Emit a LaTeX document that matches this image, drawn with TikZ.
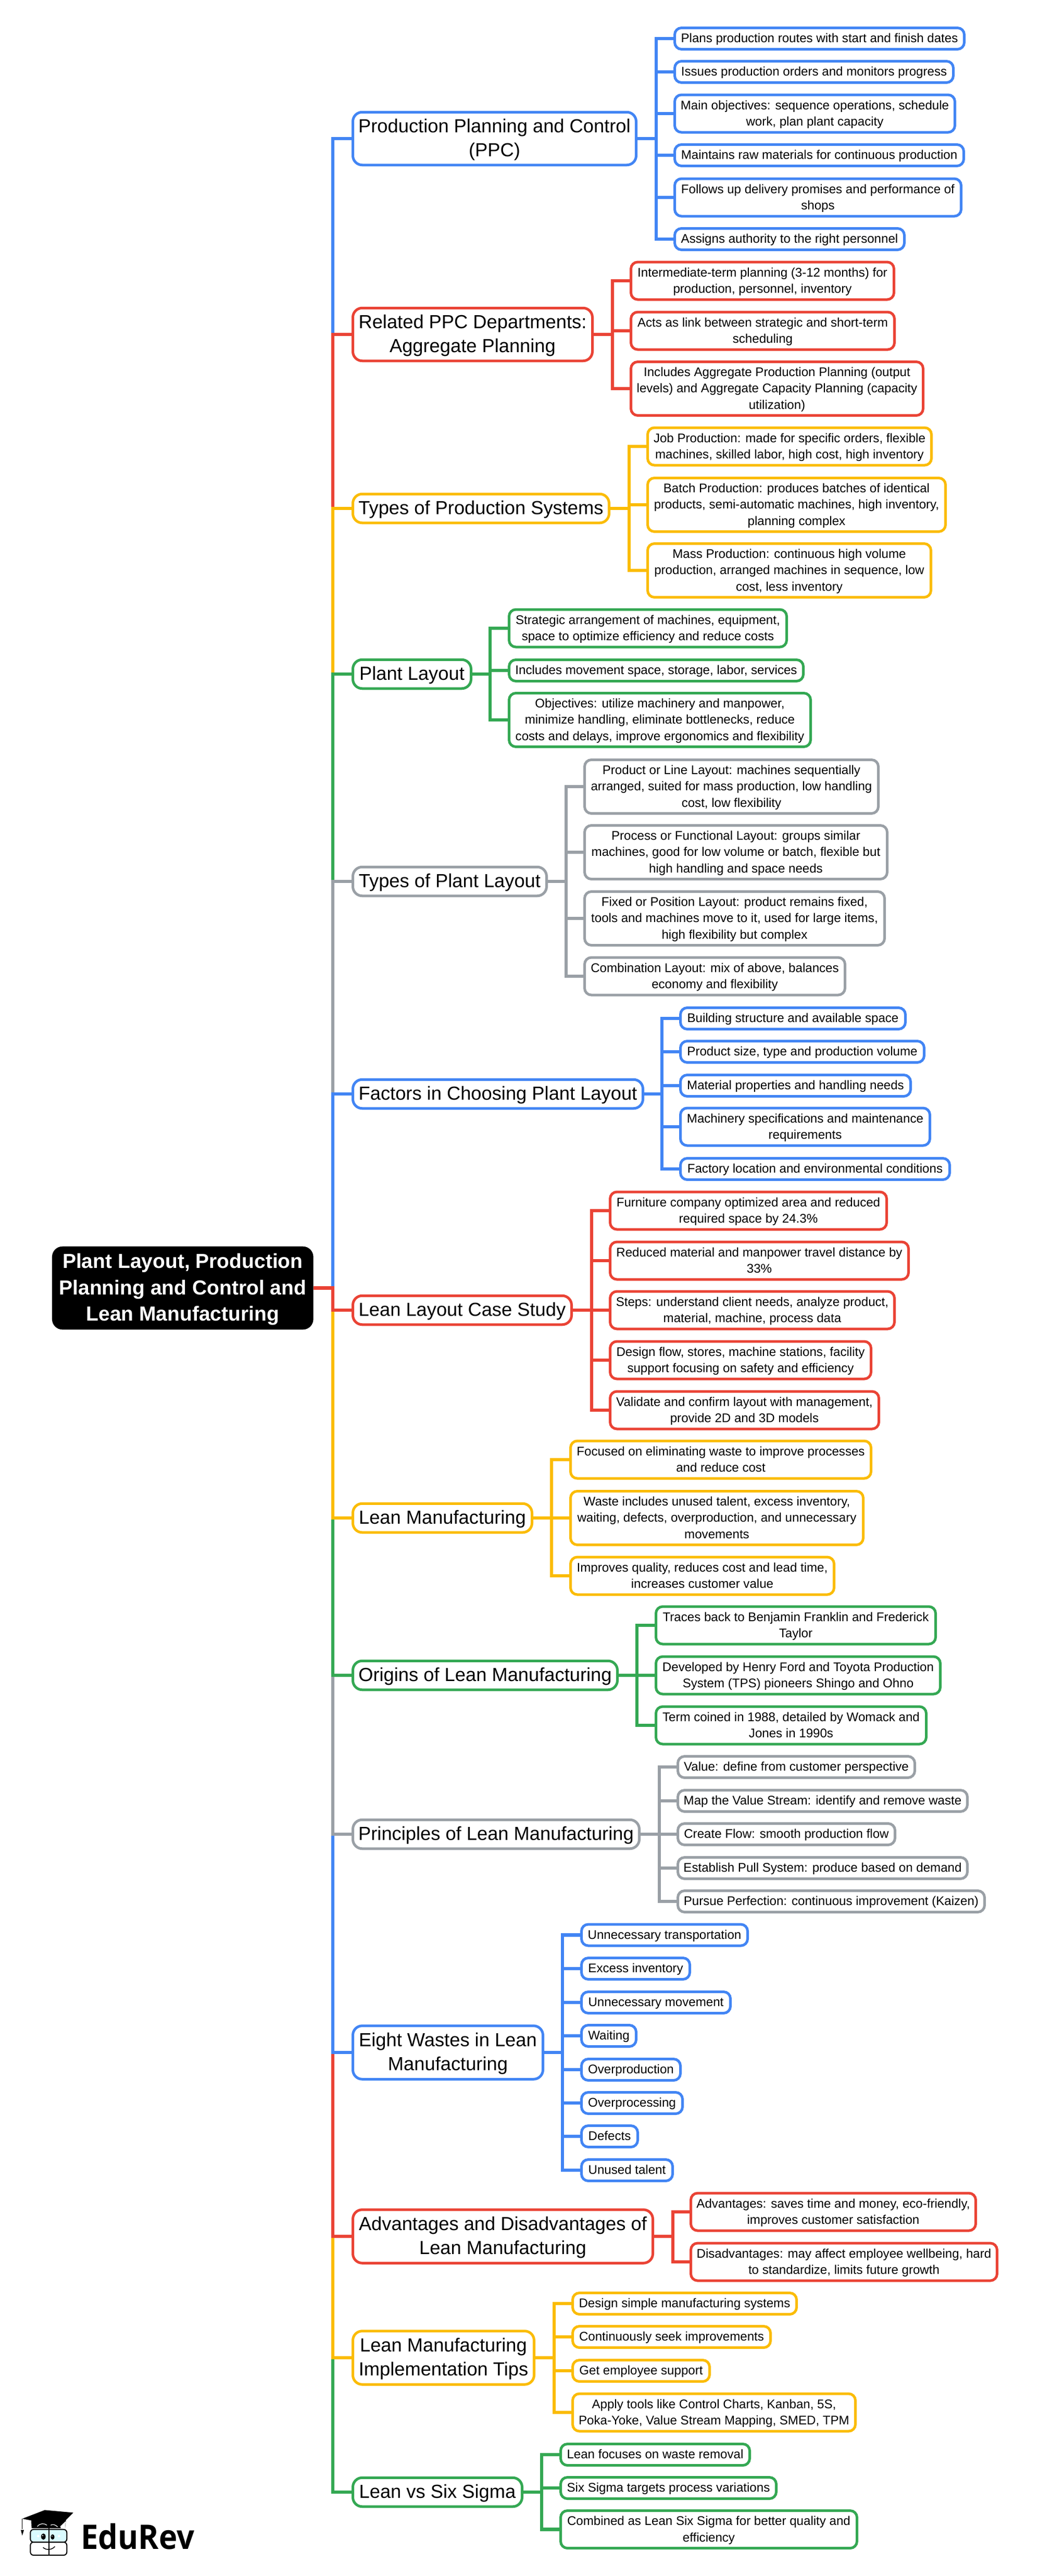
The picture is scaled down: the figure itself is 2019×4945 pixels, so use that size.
\documentclass[tikz,border=0pt]{standalone}
\usepackage{fontspec}
\setmainfont{Liberation Sans}
\newfontfamily\logofont[FakeStretch=0.92]{Open Sans}
\definecolor{mblue}{HTML}{4285F4}
\definecolor{mred}{HTML}{EA4335}
\definecolor{myellow}{HTML}{FBBC04}
\definecolor{mgreen}{HTML}{34A853}
\definecolor{mgray}{HTML}{9AA0A6}
\def\linest{\rule[-.25\baselineskip]{0pt}{\baselineskip}}
\tikzset{
  x=1pt,y=-1pt,
  boxbase/.style={draw,fill=white,align=center,inner sep=0pt,outer sep=0pt,line width=5pt},
  leafbox/.style={boxbase,rounded corners=13pt,font=\fontsize{24.1}{31.4}\selectfont},
  mainbox/.style={boxbase,rounded corners=18pt,font=\fontsize{36.3}{46}\selectfont},
  rootbox/.style={fill=black,text=white,align=center,inner sep=0pt,outer sep=0pt,rounded corners=20pt,
    font=\fontsize{39}{50.2}\selectfont\bfseries},
  conn/.style={line width=6.2pt,line join=miter},
}
% name, colour, x1, x2, cy, h, text
\newcommand{\leafnode}[7]{\node[leafbox,draw=#2,minimum width={#4-#3},minimum height={#6-3}] (#1) at ({(#3+#4+1)/2},#5) {\linest #7\linest};}
\newcommand{\mainnode}[7]{\node[mainbox,draw=#2,minimum width={#4-#3-1},minimum height={#6-2.5}] (#1) at ({(#3+#4+2)/2},#5) {\linest #7\linest};}
% parent, child, spine x, colour
\newcommand{\link}[4]{\draw[conn,#4] (#1.east) -- (#3,0 |- #1.east) -- (#3,0 |- #2.west) -- (#2.west);}
\begin{document}
\begin{tikzpicture}
\useasboundingbox (0,0) rectangle (2019,4945);

% root
\node[rootbox,minimum width=501.7pt,minimum height=159.6pt] (root) at (350.8,2472.5) {\linest Plant Layout, Production\\Planning and Control and\\Lean Manufacturing\linest};

% level one
\mainnode{ppc}{mblue}{676}{1221}{266}{104}{Production Planning and Control\\(PPC)}
\mainnode{rel}{mred}{676}{1137}{642}{104}{Related PPC Departments:\\Aggregate Planning}
\mainnode{tps}{myellow}{676}{1169}{976}{58}{Types of Production Systems}
\mainnode{pla}{mgreen}{676}{904}{1294}{58}{Plant Layout}
\mainnode{tpl}{mgray}{676}{1049}{1692}{58}{Types of Plant Layout}
\mainnode{fac}{mblue}{676}{1234}{2100}{58}{Factors in Choosing Plant Layout}
\mainnode{llc}{mred}{676}{1097}{2515}{58}{Lean Layout Case Study}
\mainnode{lma}{myellow}{676}{1021}{2914}{58}{Lean Manufacturing}
\mainnode{ori}{mgreen}{676}{1185}{3216}{58}{Origins of Lean Manufacturing}
\mainnode{pri}{mgray}{676}{1227}{3521}{58}{Principles of Lean Manufacturing}
\mainnode{eig}{mblue}{676}{1042}{3940}{105}{Eight Wastes in Lean\\Manufacturing}
\mainnode{adv}{mred}{676}{1253}{4293}{105}{Advantages and Disadvantages of\\Lean Manufacturing}
\mainnode{imp}{myellow}{676}{1025}{4526}{105}{Lean Manufacturing\\Implementation Tips}
\mainnode{lvs}{mgreen}{676}{1002}{4784}{58}{Lean vs Six Sigma}

% leaves
\leafnode{ppca}{mblue}{1295}{1851}{74}{44}{Plans production routes with start and finish dates}
\leafnode{ppcb}{mblue}{1295}{1830}{138}{44}{Issues production orders and monitors progress}
\leafnode{ppcc}{mblue}{1295}{1833}{218}{75}{Main objectives: sequence operations, schedule\\work, plan plant capacity}
\leafnode{ppcd}{mblue}{1295}{1850}{298}{44}{Maintains raw materials for continuous production}
\leafnode{ppce}{mblue}{1295}{1845}{379}{75}{Follows up delivery promises and performance of\\shops}
\leafnode{ppcf}{mblue}{1295}{1736}{459}{44}{Assigns authority to the right personnel}

\leafnode{rela}{mred}{1211}{1716}{539}{75}{Intermediate-term planning (3-12 months) for\\production, personnel, inventory}
\leafnode{relb}{mred}{1211}{1717}{635}{75}{Acts as link between strategic and short-term\\scheduling}
\leafnode{relc}{mred}{1211}{1772}{746}{106}{Includes Aggregate Production Planning (output\\levels) and Aggregate Capacity Planning (capacity\\utilization)}

\leafnode{tpsa}{myellow}{1243}{1788}{857}{75}{Job Production: made for specific orders, flexible\\machines, skilled labor, high cost, high inventory}
\leafnode{tpsb}{myellow}{1243}{1815}{969}{106}{Batch Production: produces batches of identical\\products, semi-automatic machines, high inventory,\\planning complex}
\leafnode{tpsc}{myellow}{1243}{1787}{1095}{106}{Mass Production: continuous high volume\\production, arranged machines in sequence, low\\cost, less inventory}

\leafnode{plaa}{mgreen}{977}{1510}{1206}{75}{Strategic arrangement of machines, equipment,\\space to optimize efficiency and reduce costs}
\leafnode{plab}{mgreen}{977}{1542}{1287}{44}{Includes movement space, storage, labor, services}
\leafnode{plac}{mgreen}{977}{1556}{1382}{106}{Objectives: utilize machinery and manpower,\\minimize handling, eliminate bottlenecks, reduce\\costs and delays, improve ergonomics and flexibility}

\leafnode{tpla}{mgray}{1122}{1686}{1510}{106}{Product or Line Layout: machines sequentially\\arranged, suited for mass production, low handling\\cost, low flexibility}
\leafnode{tplb}{mgray}{1122}{1703}{1636}{106}{Process or Functional Layout: groups similar\\machines, good for low volume or batch, flexible but\\high handling and space needs}
\leafnode{tplc}{mgray}{1122}{1698}{1763}{106}{Fixed or Position Layout: product remains fixed,\\tools and machines move to it, used for large items,\\high flexibility but complex}
\leafnode{tpld}{mgray}{1122}{1622}{1874}{75}{Combination Layout: mix of above, balances\\economy and flexibility}

\leafnode{faca}{mblue}{1306}{1738}{1955}{44}{Building structure and available space}
\leafnode{facb}{mblue}{1306}{1774}{2019}{44}{Product size, type and production volume}
\leafnode{facc}{mblue}{1306}{1748}{2084}{44}{Material properties and handling needs}
\leafnode{facd}{mblue}{1306}{1785}{2163}{75}{Machinery specifications and maintenance\\requirements}
\leafnode{face}{mblue}{1306}{1823}{2244}{44}{Factory location and environmental conditions}

\leafnode{llca}{mred}{1171}{1702}{2324}{75}{Furniture company optimized area and reduced\\required space by 24.3\%}
\leafnode{llcb}{mred}{1171}{1744}{2420}{75}{Reduced material and manpower travel distance by\\33\%}
\leafnode{llcc}{mred}{1171}{1717}{2515}{75}{Steps: understand client needs, analyze product,\\material, machine, process data}
\leafnode{llcd}{mred}{1171}{1672}{2611}{75}{Design flow, stores, machine stations, facility\\support focusing on safety and efficiency}
\leafnode{llce}{mred}{1171}{1687}{2707}{75}{Validate and confirm layout with management,\\provide 2D and 3D models}

\leafnode{lmaa}{myellow}{1095}{1672}{2802}{75}{Focused on eliminating waste to improve processes\\and reduce cost}
\leafnode{lmab}{myellow}{1095}{1657}{2914}{106}{Waste includes unused talent, excess inventory,\\waiting, defects, overproduction, and unnecessary\\movements}
\leafnode{lmac}{myellow}{1095}{1601}{3025}{75}{Improves quality, reduces cost and lead time,\\increases customer value}

\leafnode{oria}{mgreen}{1259}{1796}{3120}{75}{Traces back to Benjamin Franklin and Frederick\\Taylor}
\leafnode{orib}{mgreen}{1259}{1805}{3216}{75}{Developed by Henry Ford and Toyota Production\\System (TPS) pioneers Shingo and Ohno}
\leafnode{oric}{mgreen}{1259}{1778}{3312}{75}{Term coined in 1988, detailed by Womack and\\Jones in 1990s}

\leafnode{pria}{mgray}{1301}{1756}{3392}{44}{Value: define from customer perspective}
\leafnode{prib}{mgray}{1301}{1857}{3457}{44}{Map the Value Stream: identify and remove waste}
\leafnode{pric}{mgray}{1301}{1718}{3521}{44}{Create Flow: smooth production flow}
\leafnode{prid}{mgray}{1301}{1857}{3586}{44}{Establish Pull System: produce based on demand}
\leafnode{prie}{mgray}{1301}{1890}{3650}{44}{Pursue Perfection: continuous improvement (Kaizen)}

\leafnode{eiga}{mblue}{1116}{1435}{3714.5}{44}{Unnecessary transportation}
\leafnode{eigb}{mblue}{1116}{1324}{3779}{44}{Excess inventory}
\leafnode{eigc}{mblue}{1116}{1402}{3844}{44}{Unnecessary movement}
\leafnode{eigd}{mblue}{1116}{1221}{3908}{44}{Waiting}
\leafnode{eige}{mblue}{1116}{1306}{3973}{44}{Overproduction}
\leafnode{eigf}{mblue}{1116}{1310}{4037}{44}{Overprocessing}
\leafnode{eigg}{mblue}{1116}{1224}{4101}{44}{Defects}
\leafnode{eigh}{mblue}{1116}{1291}{4166}{44}{Unused talent}

\leafnode{adva}{mred}{1326}{1873}{4246}{75}{Advantages: saves time and money, eco-friendly,\\improves customer satisfaction}
\leafnode{advb}{mred}{1326}{1914}{4342}{75}{Disadvantages: may affect employee wellbeing, hard\\to standardize, limits future growth}

\leafnode{impa}{myellow}{1099}{1529}{4422}{44}{Design simple manufacturing systems}
\leafnode{impb}{myellow}{1099}{1479}{4486}{44}{Continuously seek improvements}
\leafnode{impc}{myellow}{1099}{1362}{4551}{44}{Get employee support}
\leafnode{impd}{myellow}{1099}{1642}{4631}{75}{Apply tools like Control Charts, Kanban, 5S,\\Poka-Yoke, Value Stream Mapping, SMED, TPM}

\leafnode{lvsa}{mgreen}{1076}{1439}{4712}{44}{Lean focuses on waste removal}
\leafnode{lvsb}{mgreen}{1076}{1490}{4776}{44}{Six Sigma targets process variations}
\leafnode{lvsc}{mgreen}{1076}{1645}{4855.5}{75}{Combined as Lean Six Sigma for better quality and\\efficiency}

% connectors: root to level one (upper half, then lower half from the bottom)
\link{root}{ppc}{639}{mblue}
\link{root}{rel}{639}{mred}
\link{root}{tps}{639}{myellow}
\link{root}{pla}{639}{mgreen}
\link{root}{tpl}{639}{mgray}
\link{root}{fac}{639}{mblue}
\link{root}{lvs}{639}{mgreen}
\link{root}{imp}{639}{myellow}
\link{root}{adv}{639}{mred}
\link{root}{eig}{639}{mblue}
\link{root}{pri}{639}{mgray}
\link{root}{ori}{639}{mgreen}
\link{root}{lma}{639}{myellow}
\link{root}{llc}{639}{mred}

% connectors: level one to leaves
\foreach \c in {ppca,ppcb,ppcc,ppcd,ppce,ppcf}{\link{ppc}{\c}{1259.7}{mblue}}
\foreach \c in {rela,relb,relc}{\link{rel}{\c}{1176}{mred}}
\foreach \c in {tpsa,tpsb,tpsc}{\link{tps}{\c}{1208}{myellow}}
\foreach \c in {plaa,plab,plac}{\link{pla}{\c}{941}{mgreen}}
\foreach \c in {tpla,tplb,tplc,tpld}{\link{tpl}{\c}{1087}{mgray}}
\foreach \c in {faca,facb,facc,facd,face}{\link{fac}{\c}{1271}{mblue}}
\foreach \c in {llca,llcb,llcc,llcd,llce}{\link{llc}{\c}{1136}{mred}}
\foreach \c in {lmaa,lmab,lmac}{\link{lma}{\c}{1059}{myellow}}
\foreach \c in {oria,orib,oric}{\link{ori}{\c}{1223}{mgreen}}
\foreach \c in {pria,prib,pric,prid,prie}{\link{pri}{\c}{1266}{mgray}}
\foreach \c in {eiga,eigb,eigc,eigd,eige,eigf,eigg,eigh}{\link{eig}{\c}{1080}{mblue}}
\foreach \c in {adva,advb}{\link{adv}{\c}{1292}{mred}}
\foreach \c in {impa,impb,impc,impd}{\link{imp}{\c}{1064}{myellow}}
\foreach \c in {lvsa,lvsb,lvsc}{\link{lvs}{\c}{1040}{mgreen}}

% logo
\node[anchor=base west,inner sep=0pt,font={\logofont\bfseries\fontsize{65}{70}\selectfont}] (edurev) at (155,4893) {EduRev};
\begin{scope}[shift={(20,4790)},x=0.3333pt,y=-0.3333pt]
  \fill[black] (68,135) -- (198,85) -- (362,100) -- (320,142) -- (315,190) -- (122,190) -- (120,145) -- cycle;
  \fill[white] (288,178) -- (318,150) -- (315,192) -- (290,190) -- cycle;
  \draw[white,line width=1.2pt] (155,180) .. controls (170,160) and (195,160) .. (210,172);
  \draw[white,line width=1.2pt] (232,172) .. controls (245,165) and (260,170) .. (272,182);
  \draw[black,line width=1.3pt] (68,135) -- (68,195);
  \fill[black] (60,200) -- (78,200) -- (68,232) -- cycle;
  \draw[black,fill=white,line width=2pt,rounded corners=6pt] (115,270) -- (115,345) -- (325,345) -- (325,270) -- cycle;
  \draw[black,fill=blue!10!cyan!15,line width=2pt,rounded corners=6pt] (115,197) rectangle (325,270);
  \draw[black,line width=2pt] (222,190) -- (222,348);
  \fill[black] (190,238) ellipse [x radius=13,y radius=18];
  \fill[black] (243,240) ellipse [x radius=11,y radius=15];
  \fill[white] (186,232) circle [radius=4];
  \fill[white] (240,235) circle [radius=3];
  \fill[white] (160,235) circle [radius=7];
  \fill[white] (280,235) circle [radius=7];
  \draw[black,line width=1.5pt] (188,300) .. controls (205,318) and (240,315) .. (256,295);
\end{scope}
\end{tikzpicture}
\end{document}
